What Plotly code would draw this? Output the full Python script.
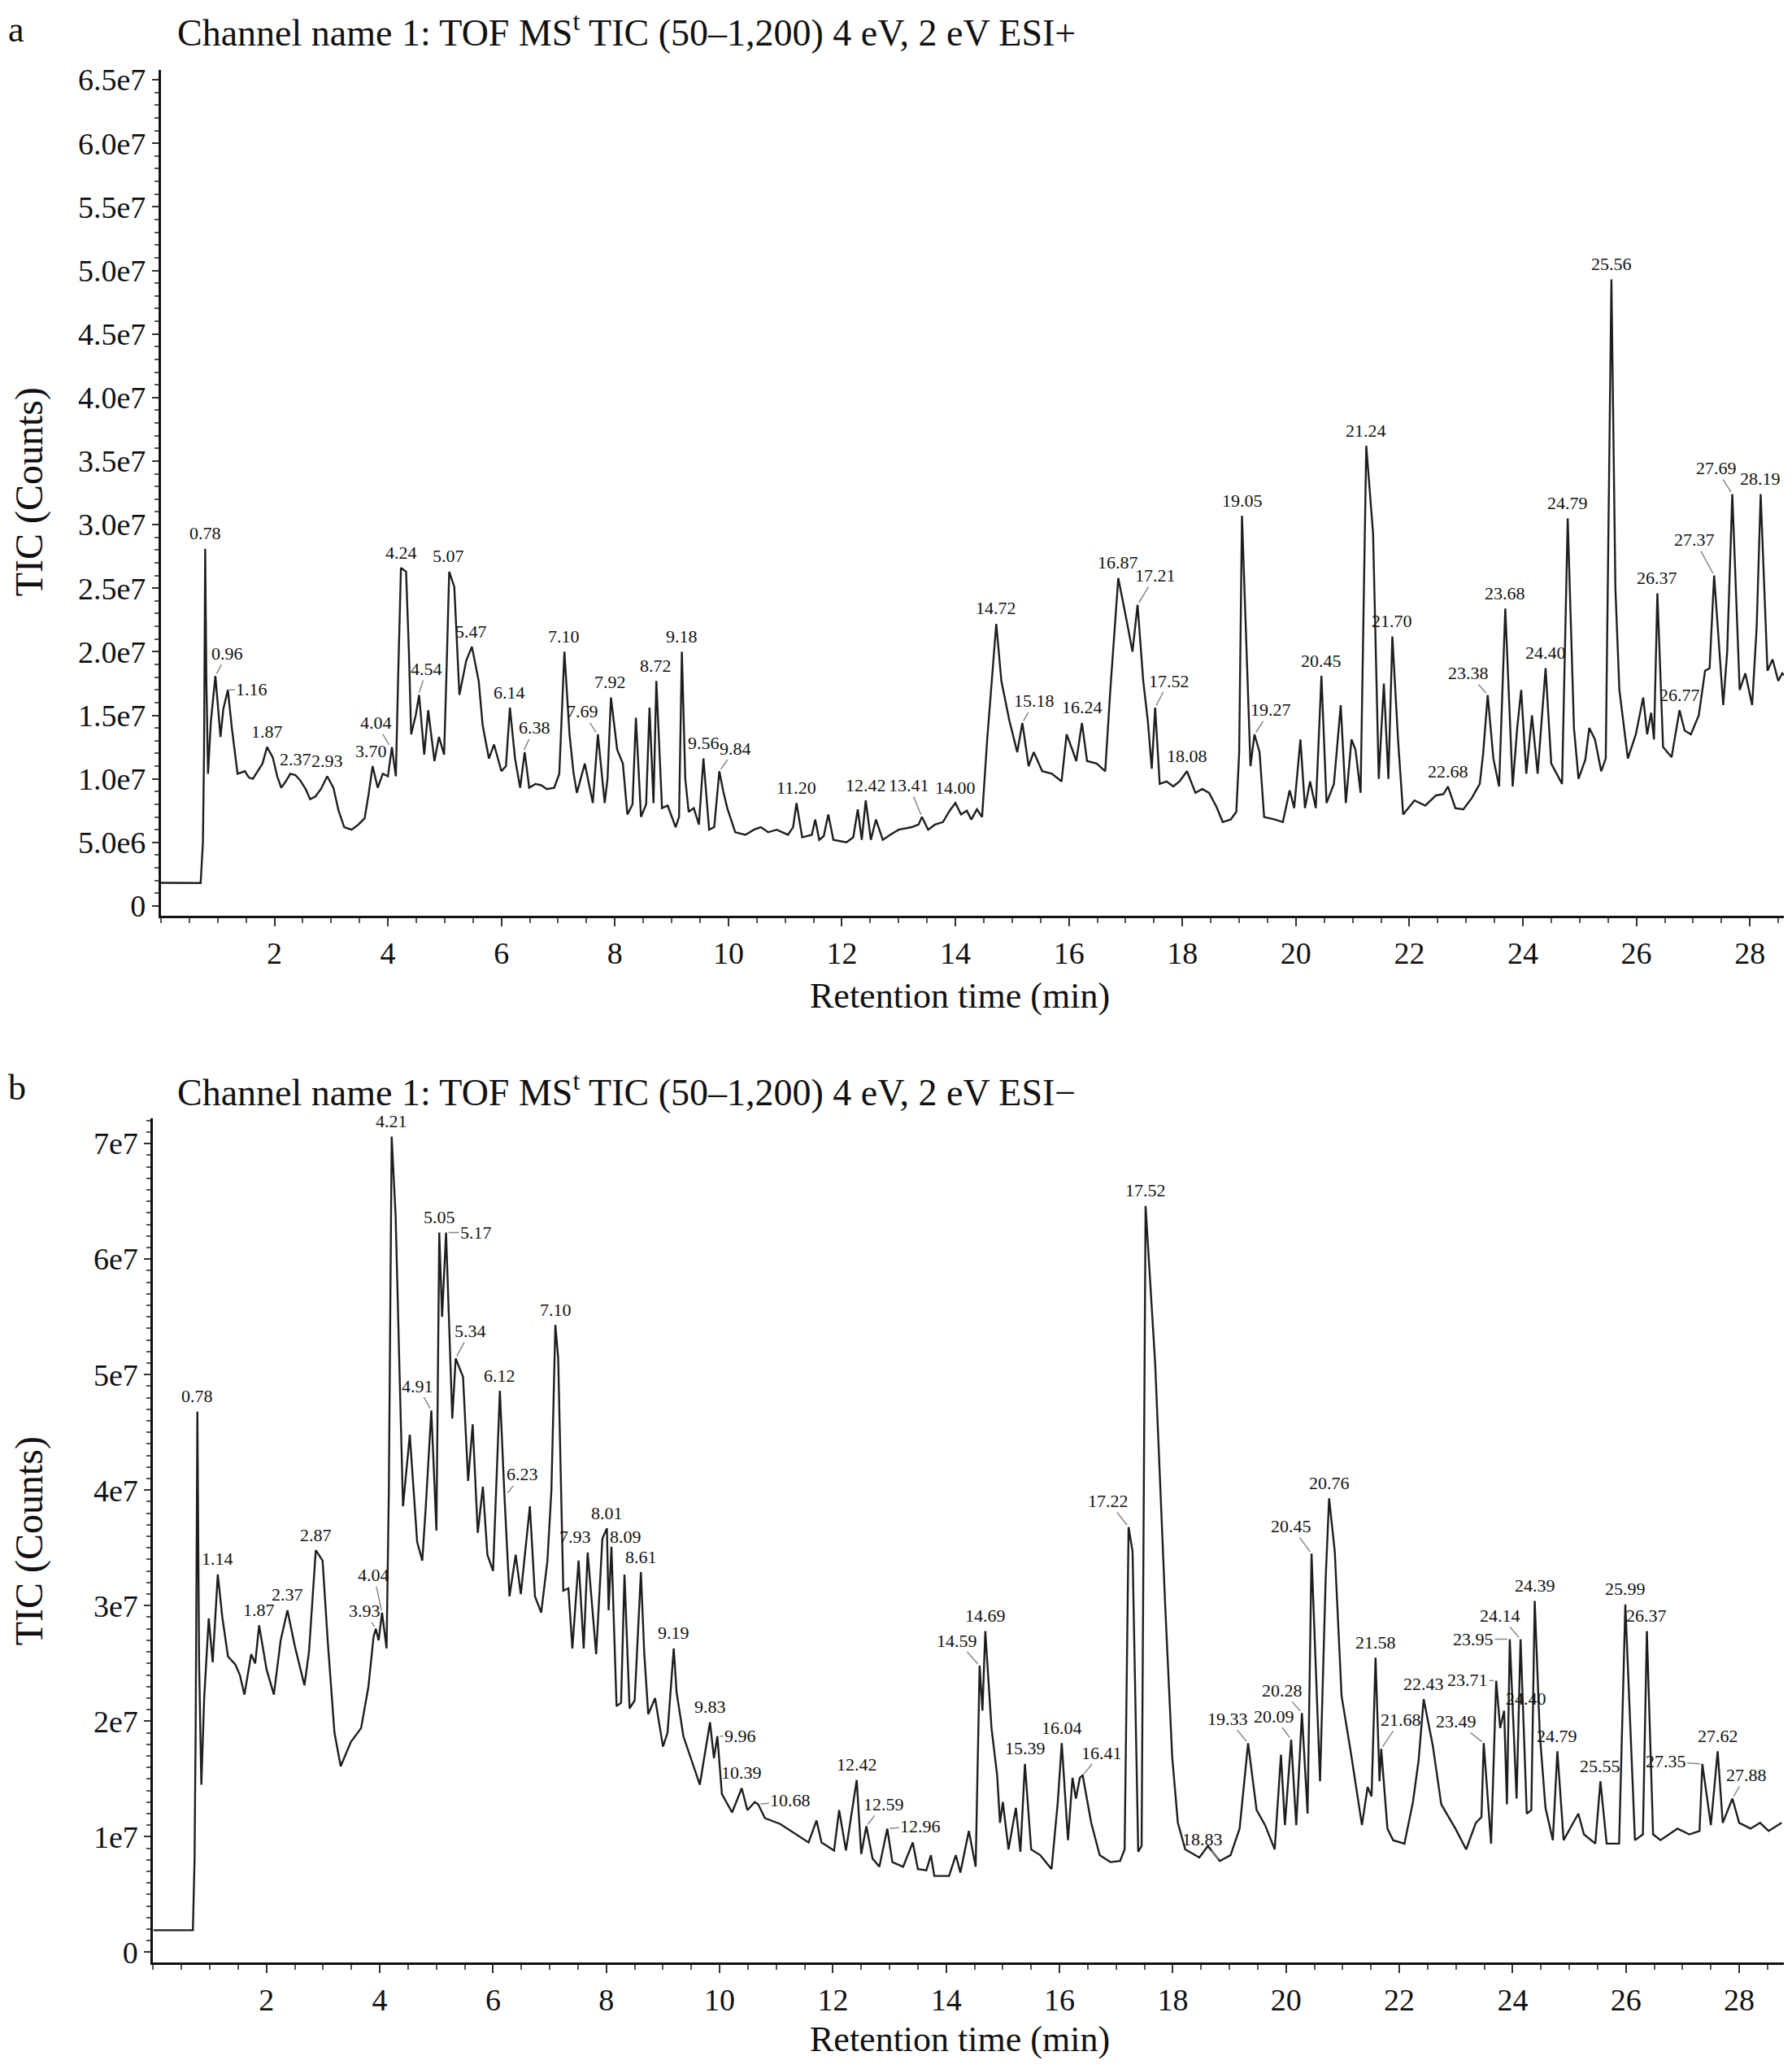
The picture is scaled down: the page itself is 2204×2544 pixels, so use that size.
import plotly.graph_objects as go

# ---------------- Panel a (ESI+) : retention time (min) and TIC (millions of counts)
time_a = [0.00, 0.30, 0.60, 0.70, 0.74, 0.76, 0.78, 0.80, 0.83, 0.88, 0.96, 1.05, 1.10, 1.18, 1.25,
          1.35, 1.48, 1.55, 1.62, 1.71, 1.79, 1.87, 1.97, 2.05, 2.12, 2.20, 2.28, 2.37, 2.45, 2.55,
          2.63, 2.72, 2.82, 2.93, 3.04, 3.13, 3.23, 3.36, 3.48, 3.59, 3.66, 3.73, 3.82, 3.91, 4.00,
          4.07, 4.14, 4.18, 4.23, 4.32, 4.37, 4.41, 4.49, 4.55, 4.64, 4.71, 4.82, 4.90, 4.99, 5.03,
          5.08, 5.17, 5.26, 5.38, 5.48, 5.60, 5.67, 5.78, 5.87, 6.00, 6.08, 6.15, 6.24, 6.33, 6.41,
          6.49, 6.60, 6.70, 6.80, 6.93, 7.02, 7.11, 7.20, 7.27, 7.33, 7.47, 7.61, 7.70, 7.82, 7.87,
          7.93, 8.04, 8.14, 8.22, 8.31, 8.37, 8.46, 8.55, 8.61, 8.68, 8.73, 8.83, 8.93, 9.07, 9.13,
          9.18, 9.24, 9.30, 9.39, 9.48, 9.56, 9.66, 9.75, 9.84, 9.91, 9.98, 10.12, 10.30, 10.45, 10.57,
          10.70, 10.85, 11.05, 11.14, 11.20, 11.30, 11.47, 11.53, 11.60, 11.68, 11.76, 11.85, 12.08, 12.20, 12.28,
          12.35, 12.42, 12.51, 12.60, 12.72, 12.85, 13.00, 13.23, 13.35, 13.41, 13.52, 13.64, 13.78, 13.90, 14.00,
          14.10, 14.20, 14.28, 14.38, 14.47, 14.56, 14.72, 14.81, 14.95, 15.09, 15.18, 15.29, 15.38, 15.53, 15.70,
          15.87, 15.96, 16.06, 16.13, 16.23, 16.32, 16.49, 16.64, 16.73, 16.87, 17.02, 17.12, 17.21, 17.31, 17.39,
          17.46, 17.52, 17.60, 17.72, 17.84, 17.95, 18.08, 18.23, 18.35, 18.47, 18.60, 18.71, 18.85, 18.95, 19.00,
          19.05, 19.12, 19.20, 19.27, 19.36, 19.44, 19.63, 19.77, 19.89, 19.97, 20.08, 20.16, 20.25, 20.35, 20.45,
          20.54, 20.67, 20.79, 20.88, 20.98, 21.05, 21.14, 21.24, 21.36, 21.46, 21.55, 21.63, 21.70, 21.80, 21.89,
          22.09, 22.28, 22.47, 22.60, 22.68, 22.81, 22.95, 23.10, 23.24, 23.30, 23.38, 23.48, 23.58, 23.69, 23.82,
          23.90, 23.97, 24.06, 24.16, 24.26, 24.40, 24.50, 24.69, 24.79, 24.90, 24.98, 25.10, 25.17, 25.27, 25.38,
          25.46, 25.56, 25.63, 25.70, 25.85, 25.99, 26.12, 26.19, 26.26, 26.31, 26.37, 26.47, 26.62, 26.76, 26.85,
          26.96, 27.10, 27.21, 27.29, 27.37, 27.53, 27.60, 27.69, 27.82, 27.92, 28.04, 28.12, 28.19, 28.31, 28.40,
          28.50, 28.57, 28.62]
tic_a = [1.82, 1.80, 1.78, 1.80, 5.0, 12.0, 28.1, 18.0, 10.4, 14.5, 18.1, 13.3, 15.5, 17.0, 14.0,
         10.4, 10.6, 10.1, 10.0, 10.6, 11.2, 12.5, 11.7, 10.2, 9.3, 9.8, 10.4, 10.3, 9.9, 9.2,
         8.4, 8.6, 9.2, 10.2, 9.3, 7.5, 6.2, 6.0, 6.4, 6.9, 8.8, 11.0, 9.3, 10.4, 10.2,
         12.5, 10.2, 18.0, 26.6, 26.3, 20.0, 13.5, 15.0, 16.6, 11.9, 15.4, 11.4, 13.3, 11.9, 18.0,
         26.3, 25.1, 16.6, 19.3, 20.4, 17.7, 14.2, 11.6, 12.7, 10.6, 11.0, 15.6, 11.6, 9.3, 12.1,
         9.3, 9.6, 9.5, 9.2, 9.3, 10.4, 20.0, 13.5, 10.5, 8.9, 11.2, 8.1, 13.5, 8.1, 10.0,
         16.4, 12.3, 11.2, 7.2, 8.0, 14.8, 7.0, 8.0, 15.6, 8.1, 17.7, 7.7, 7.9, 6.2, 7.0,
         20.0, 10.0, 7.4, 7.7, 6.4, 11.6, 6.0, 6.2, 10.6, 9.0, 7.7, 5.8, 5.6, 6.0, 6.2,
         5.8, 6.0, 5.6, 6.2, 8.1, 5.4, 5.6, 6.8, 5.2, 5.5, 7.2, 5.2, 5.0, 5.4, 7.6,
         5.2, 8.3, 5.2, 6.8, 5.2, 5.6, 6.0, 6.2, 6.4, 7.0, 6.0, 6.4, 6.6, 7.5, 8.1,
         7.2, 7.5, 6.8, 7.6, 7.0, 13.1, 22.2, 17.7, 14.6, 12.1, 14.4, 11.0, 12.1, 10.6, 10.4,
         9.8, 13.5, 12.3, 11.4, 14.4, 11.4, 11.2, 10.6, 17.0, 25.8, 22.4, 20.0, 23.7, 17.7, 14.6,
         10.8, 15.6, 9.6, 9.8, 9.4, 9.8, 10.6, 8.9, 9.2, 8.9, 7.8, 6.6, 6.8, 7.4, 12.0,
         30.7, 22.0, 11.0, 13.5, 12.1, 7.0, 6.8, 6.6, 9.1, 7.7, 13.1, 7.7, 9.8, 7.7, 18.1,
         8.1, 9.6, 15.8, 8.1, 13.1, 12.3, 8.9, 36.2, 29.3, 10.0, 17.5, 10.0, 21.2, 13.1, 7.2,
         8.3, 7.9, 8.7, 8.8, 9.4, 7.7, 7.6, 8.5, 9.6, 12.0, 16.6, 11.6, 9.4, 23.4, 9.4,
         14.0, 17.0, 10.4, 15.0, 10.4, 18.7, 11.2, 9.6, 30.5, 14.0, 10.0, 11.5, 14.0, 13.1, 10.6,
         11.6, 49.3, 25.0, 17.0, 11.6, 13.5, 16.4, 13.5, 15.2, 13.1, 24.6, 12.5, 11.7, 15.4, 13.8,
         13.5, 15.0, 18.5, 18.7, 26.0, 15.8, 20.0, 32.4, 17.0, 18.3, 15.8, 22.0, 32.4, 18.5, 19.4,
         17.7, 18.3, 18.1]
labels_a = ["0.78", "0.96", "1.16", "1.87", "2.37", "2.93", "3.70", "4.04", "4.24", "4.54", "5.07",
            "5.47", "6.14", "6.38", "7.10", "7.69", "7.92", "8.72", "9.18", "9.56", "9.84", "11.20",
            "12.42", "13.41", "14.00", "14.72", "15.18", "16.24", "16.87", "17.21", "17.52", "18.08",
            "19.05", "19.27", "20.45", "21.24", "21.70", "22.68", "23.38", "23.68", "24.40", "24.79",
            "25.56", "26.37", "26.77", "27.37", "27.69", "28.19"]

# ---------------- Panel b (ESI-)
time_b = [0.00, 0.35, 0.70, 0.73, 0.75, 0.78, 0.81, 0.85, 0.90, 0.98, 1.05, 1.14, 1.22, 1.32, 1.45,
          1.53, 1.61, 1.73, 1.80, 1.87, 2.00, 2.13, 2.25, 2.37, 2.50, 2.67, 2.75, 2.87, 2.99, 3.08,
          3.20, 3.31, 3.49, 3.67, 3.80, 3.89, 3.93, 3.98, 4.04, 4.12, 4.16, 4.21, 4.28, 4.35, 4.41,
          4.53, 4.66, 4.75, 4.81, 4.91, 5.00, 5.05, 5.10, 5.17, 5.28, 5.34, 5.47, 5.56, 5.64, 5.73,
          5.82, 5.90, 6.00, 6.12, 6.20, 6.29, 6.40, 6.49, 6.65, 6.74, 6.85, 6.96, 7.03, 7.10, 7.15,
          7.24, 7.33, 7.40, 7.51, 7.60, 7.67, 7.82, 7.93, 8.01, 8.04, 8.09, 8.18, 8.26, 8.32, 8.41,
          8.50, 8.61, 8.67, 8.74, 8.86, 9.00, 9.08, 9.19, 9.24, 9.36, 9.49, 9.65, 9.83, 9.90, 9.96,
          10.04, 10.22, 10.39, 10.49, 10.62, 10.68, 10.80, 11.07, 11.35, 11.57, 11.71, 11.80, 12.02, 12.11, 12.23,
          12.42, 12.50, 12.59, 12.70, 12.82, 12.96, 13.05, 13.24, 13.41, 13.50, 13.65, 13.73, 13.79, 14.05, 14.17,
          14.25, 14.40, 14.52, 14.59, 14.64, 14.69, 14.80, 14.90, 14.95, 15.00, 15.10, 15.23, 15.31, 15.39, 15.50,
          15.66, 15.86, 15.97, 16.04, 16.15, 16.23, 16.29, 16.36, 16.41, 16.56, 16.71, 16.90, 17.07, 17.15, 17.22,
          17.29, 17.39, 17.45, 17.52, 17.69, 17.77, 17.87, 17.99, 18.09, 18.22, 18.47, 18.62, 18.83, 19.02, 19.18,
          19.33, 19.48, 19.63, 19.80, 19.91, 19.98, 20.09, 20.18, 20.28, 20.38, 20.45, 20.60, 20.70, 20.76, 20.86,
          20.98, 21.14, 21.34, 21.44, 21.51, 21.58, 21.65, 21.68, 21.79, 21.89, 22.09, 22.24, 22.34, 22.43, 22.59,
          22.74, 22.99, 23.18, 23.35, 23.45, 23.49, 23.62, 23.71, 23.78, 23.85, 23.90, 23.95, 24.07, 24.14, 24.25,
          24.33, 24.39, 24.48, 24.58, 24.71, 24.79, 24.90, 25.16, 25.26, 25.46, 25.55, 25.66, 25.88, 25.99, 26.08,
          26.16, 26.30, 26.37, 26.48, 26.61, 26.91, 27.12, 27.30, 27.35, 27.50, 27.62, 27.71, 27.88, 28.00, 28.20,
          28.37, 28.52, 28.75]
tic_b = [1.9, 1.9, 1.9, 8.0, 20.0, 46.8, 25.0, 14.5, 22.0, 28.9, 25.1, 32.7, 29.0, 25.6, 24.9,
         24.0, 22.3, 25.8, 25.0, 28.3, 24.5, 22.3, 27.0, 29.6, 26.5, 23.1, 26.0, 34.8, 33.9, 27.0,
         19.0, 16.1, 18.2, 19.4, 23.0, 27.3, 28.0, 27.0, 29.4, 26.3, 40.0, 70.6, 63.7, 50.0, 38.6,
         44.8, 35.5, 33.9, 38.4, 46.9, 36.5, 62.3, 55.0, 62.3, 46.2, 51.4, 49.8, 40.8, 45.7, 36.3,
         40.3, 34.4, 33.0, 48.6, 39.6, 30.8, 34.4, 31.0, 38.6, 30.8, 29.4, 33.9, 40.0, 54.3, 51.4,
         31.3, 31.5, 26.3, 33.9, 26.3, 34.6, 25.8, 35.8, 36.7, 29.6, 35.1, 21.3, 21.6, 32.7, 21.1,
         21.8, 32.9, 25.8, 20.6, 22.0, 17.8, 19.0, 26.3, 22.5, 18.7, 16.8, 14.5, 19.9, 16.8, 18.7,
         13.7, 12.1, 14.2, 12.3, 13.0, 12.8, 11.6, 11.1, 10.2, 9.5, 11.4, 9.5, 8.8, 12.3, 8.8,
         14.9, 8.5, 10.9, 8.1, 7.4, 10.7, 7.8, 7.4, 9.5, 7.2, 7.1, 8.4, 6.6, 6.6, 8.4,
         6.9, 10.5, 7.4, 24.8, 20.9, 27.8, 19.4, 15.3, 11.2, 13.0, 8.9, 12.5, 8.7, 16.3, 8.9,
         8.4, 7.2, 13.0, 18.1, 9.7, 15.1, 13.3, 15.1, 15.3, 11.2, 8.4, 7.8, 7.9, 8.9, 36.8,
         34.7, 8.7, 9.2, 64.6, 50.9, 41.4, 29.6, 16.9, 11.2, 8.9, 8.2, 9.2, 7.9, 8.4, 10.7,
         18.1, 12.3, 11.0, 8.9, 17.1, 11.0, 18.4, 11.0, 20.7, 12.0, 34.5, 14.8, 32.4, 39.3, 34.7,
         22.2, 17.4, 11.0, 14.3, 13.5, 25.5, 14.8, 17.6, 10.7, 9.7, 9.4, 13.0, 16.6, 21.9, 17.9,
         12.8, 10.7, 8.9, 11.2, 11.7, 18.1, 9.4, 23.5, 19.4, 20.9, 12.8, 27.1, 13.3, 27.1, 12.0,
         12.3, 30.4, 18.9, 12.5, 9.7, 17.4, 9.7, 12.0, 10.2, 9.4, 14.8, 9.4, 9.4, 30.1, 19.4,
         9.7, 10.2, 27.8, 10.2, 9.7, 10.7, 10.2, 10.5, 16.3, 11.0, 17.4, 11.2, 13.3, 11.2, 10.7,
         11.2, 10.5, 11.2]
labels_b = ["0.78", "1.14", "1.87", "2.37", "2.87", "3.93", "4.04", "4.21", "4.91", "5.05", "5.17",
            "5.34", "6.12", "6.23", "7.10", "7.93", "8.01", "8.09", "8.61", "9.19", "9.83", "9.96",
            "10.39", "10.68", "12.42", "12.59", "12.96", "14.59", "14.69", "15.39", "16.04", "16.41",
            "17.22", "17.52", "18.83", "19.33", "20.09", "20.28", "20.45", "20.76", "21.58", "21.68",
            "22.43", "23.49", "23.71", "23.95", "24.14", "24.39", "24.40", "24.79", "25.55", "25.99",
            "26.37", "27.35", "27.62", "27.88"]

yticks_a = [0, 5e6, 1e7, 1.5e7, 2e7, 2.5e7, 3e7, 3.5e7, 4e7, 4.5e7, 5e7, 5.5e7, 6e7, 6.5e7]
yticktext_a = ["0", "5.0e6", "1.0e7", "1.5e7", "2.0e7", "2.5e7", "3.0e7", "3.5e7", "4.0e7",
               "4.5e7", "5.0e7", "5.5e7", "6.0e7", "6.5e7"]
yticks_b = [0, 1e7, 2e7, 3e7, 4e7, 5e7, 6e7, 7e7]
yticktext_b = ["0", "1e7", "2e7", "3e7", "4e7", "5e7", "6e7", "7e7"]
xticks = [2, 4, 6, 8, 10, 12, 14, 16, 18, 20, 22, 24, 26, 28]

MILLION = 1e6

# label placement (pixel offset of label centre from the peak apex, leader line flag)
offsets_a = {
    "0.96": (15, -28, True), "1.16": (31, -1, True), "4.04": (-17, -30, True), "4.54": (10, -32, True),
    "6.38": (14, -30, True), "7.69": (-18, -28, True), "9.84": (20, -28, True), "13.41": (-16, -39, True),
    "15.18": (15, -27, True), "17.21": (22, -36, True), "17.52": (17, -33, True), "19.27": (20, -30, True),
    "23.38": (-24, -27, True), "27.37": (-24, -44, True), "27.69": (-20, -32, True),
}
offsets_b = {
    "3.93": (-14, -22, True), "4.04": (-10, -46, True), "4.91": (-17, -30, True), "5.17": (37, 0, True),
    "5.34": (18, -34, True), "6.23": (20, -25, True), "7.93": (-33, -2, False), "8.09": (17, -12, True),
    "9.96": (28, 0, True), "10.68": (40, -5, True), "12.59": (21, -27, True), "12.96": (41, -3, True),
    "14.59": (-28, -31, True), "16.41": (23, -28, True), "17.22": (-25, -32, True), "18.83": (-21, -27, True),
    "19.33": (-25, -30, True), "20.09": (-21, -29, True), "20.28": (-24, -28, True), "20.45": (-25, -34, True),
    "21.68": (24, -36, True), "23.49": (-34, -27, True), "23.71": (-35, -1, True), "23.95": (-45, 0, True),
    "24.14": (-25, -29, True), "24.40": (-11, 120, False), "27.35": (-45, -3, True), "27.88": (17, -29, True),
}
DEFAULT_OFFSET = (0, -19, False)

FONT = "Liberation Serif"


def apex(times, values, t0):
    cand = [v for t, v in zip(times, values) if abs(t - t0) <= 0.06]
    if cand:
        return max(cand)
    best = min(range(len(times)), key=lambda i: abs(times[i] - t0))
    return values[best]


def peak_annotations(times, values, labels, offsets, xref, yref):
    anns = []
    for lab in labels:
        t0 = float(lab)
        y0 = apex(times, values, t0) * MILLION
        dx, dy, leader = offsets.get(lab, DEFAULT_OFFSET)
        common = dict(x=t0, y=y0, xref=xref, yref=yref, text=lab,
                      font=dict(family=FONT, size=22, color="#111"))
        if leader:
            anns.append(dict(**common, showarrow=True, ax=dx, ay=dy, arrowhead=0,
                             arrowwidth=1.5, arrowcolor="#888", standoff=3))
        else:
            anns.append(dict(**common, showarrow=False, xshift=dx, yshift=-dy,
                             xanchor="center", yanchor="middle"))
    return anns


fig = go.Figure()
fig.add_trace(go.Scatter(x=time_a, y=[v * MILLION for v in tic_a], mode="lines",
                         line=dict(color="#1e1e1e", width=2.4), xaxis="x", yaxis="y",
                         showlegend=False, hoverinfo="skip"))
fig.add_trace(go.Scatter(x=time_b, y=[v * MILLION for v in tic_b], mode="lines",
                         line=dict(color="#1e1e1e", width=2.4), xaxis="x2", yaxis="y2",
                         showlegend=False, hoverinfo="skip"))

axis_common = dict(showline=True, linewidth=3, linecolor="#111", ticks="outside", tickwidth=2,
                   tickcolor="#333", showgrid=False, zeroline=False,
                   tickfont=dict(family=FONT, size=38, color="#111"))

fig.update_layout(
    width=2204, height=2544, margin=dict(l=0, r=0, t=0, b=0),
    paper_bgcolor="white", plot_bgcolor="white", showlegend=False,
    xaxis=dict(**axis_common, domain=[0.0898, 0.9955], range=[0, 28.6], tickvals=xticks,
               ticklen=10, anchor="y",
               minor=dict(dtick=0.5, tick0=0, ticklen=6, tickwidth=1.5, tickcolor="#555", ticks="outside")),
    yaxis=dict(**axis_common, domain=[0.5574, 0.9693], range=[-0.8e6, 65.8e6], tickvals=yticks_a,
               ticktext=yticktext_a, ticklen=8, anchor="x",
               minor=dict(dtick=1e6, tick0=0, ticklen=5, tickwidth=1.5, tickcolor="#555", ticks="outside")),
    xaxis2=dict(**axis_common, domain=[0.0855, 0.9955], range=[0, 28.79], tickvals=xticks,
                ticklen=10, anchor="y2",
                minor=dict(dtick=0.5, tick0=0, ticklen=6, tickwidth=1.5, tickcolor="#555", ticks="outside")),
    yaxis2=dict(**axis_common, domain=[0.0482, 0.4591], range=[-0.9e6, 72.2e6], tickvals=yticks_b,
                ticktext=yticktext_b, ticklen=8, anchor="x2",
                minor=dict(dtick=1e6, tick0=0, ticklen=5, tickwidth=1.5, tickcolor="#555", ticks="outside")),
)

anns = []
anns += peak_annotations(time_a, tic_a, labels_a, offsets_a, "x", "y")
anns += peak_annotations(time_b, tic_b, labels_b, offsets_b, "x2", "y2")

text_font = dict(family=FONT, size=44, color="#111")
title_font = dict(family=FONT, size=46, color="#111")
ytitle_font = dict(family=FONT, size=48, color="#111")
anns += [
    dict(x=0.0036, y=0.9886, xref="paper", yref="paper", text="a", showarrow=False,
         xanchor="left", yanchor="middle", font=text_font),
    dict(x=0.098, y=0.9886, xref="paper", yref="paper",
         text="Channel name 1: TOF MS<sup>t</sup> TIC (50\u20131,200) 4 eV, 2 eV ESI+",
         showarrow=False, xanchor="left", yanchor="middle", font=title_font),
    dict(x=0.0036, y=0.4737, xref="paper", yref="paper", text="b", showarrow=False,
         xanchor="left", yanchor="middle", font=text_font),
    dict(x=0.098, y=0.4730, xref="paper", yref="paper",
         text="Channel name 1: TOF MS<sup>t</sup> TIC (50\u20131,200) 4 eV, 2 eV ESI\u2212",
         showarrow=False, xanchor="left", yanchor="middle", font=title_font),
    dict(x=0.5354, y=0.5185, xref="paper", yref="paper", text="Retention time (min)",
         showarrow=False, xanchor="center", yanchor="middle", font=text_font),
    dict(x=0.5354, y=0.0110, xref="paper", yref="paper", text="Retention time (min)",
         showarrow=False, xanchor="center", yanchor="middle", font=text_font),
    dict(x=0.0163, y=0.764, xref="paper", yref="paper", text="TIC (Counts)", textangle=-90,
         showarrow=False, xanchor="center", yanchor="middle", font=ytitle_font),
    dict(x=0.0163, y=0.2535, xref="paper", yref="paper", text="TIC (Counts)", textangle=-90,
         showarrow=False, xanchor="center", yanchor="middle", font=ytitle_font),
]
fig.update_layout(annotations=anns)

fig.write_html("out.html")
